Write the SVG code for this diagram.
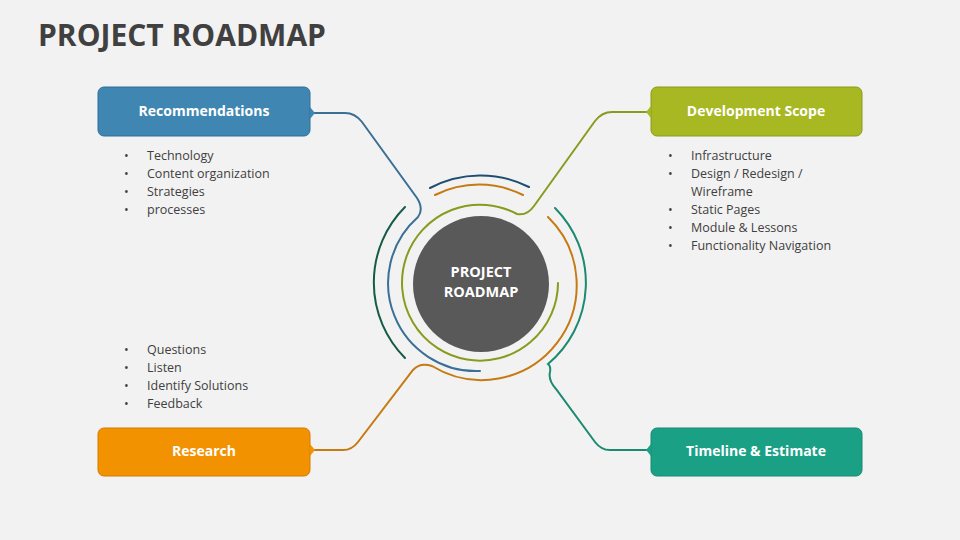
<svg xmlns="http://www.w3.org/2000/svg" width="960" height="540" viewBox="0 0 960 540">
<style>
.t{font-family:"Open Sans","Liberation Sans",sans-serif}
.bx{font-family:"Open Sans","Liberation Sans",sans-serif;font-size:14px;font-weight:bold;fill:#fff;text-anchor:middle}
.li{font-family:"Open Sans","Liberation Sans",sans-serif;font-size:12.5px;fill:#404040}
.c{fill:none;stroke-width:2;stroke-linecap:round}
</style>
<rect width="960" height="540" fill="#f2f2f2"/>
<text class="t" x="38" y="46" font-size="30" font-weight="bold" fill="#404040">PROJECT ROADMAP</text>
<g id="connectors">
<path class="c" stroke="#3a6f96" d="M310,113 H345 Q355,113 362,122 L417,198 Q424,209 418,217 A88 88 0 0 0 480 371"/>
<path class="c" stroke="#8a9a1e" d="M651,112 H612 Q602,112 595,121 L534,206 Q527,216 517,214 A78 78 0 1 0 558 283"/>
<path class="c" stroke="#c67a12" d="M310,450 H343 Q352,450 358,442 L413,370 Q420,362 432,366 A95 95 0 0 0 548 217"/>
<path class="c" stroke="#1a8a70" d="M651,450 H610 Q601,450 595,442 L556,389 Q548,380 550,372 Q551,366 548,364 A106 106 0 0 0 555 208"/>
<path class="c" stroke="#1f4e6e" d="M430,188 A108 108 0 0 1 529 187"/>
<path class="c" stroke="#c67a12" d="M435,195 A98 98 0 0 1 523 195"/>
<path class="c" stroke="#145c45" d="M405,207 A107 107 0 0 0 405 358"/>
</g>
<g id="center">
<circle cx="481" cy="284" r="68" fill="#595959"/>
<text class="t" x="481" y="277" font-size="14.5" font-weight="bold" fill="#fff" text-anchor="middle">PROJECT</text>
<text class="t" x="481" y="297" font-size="14.5" font-weight="bold" fill="#fff" text-anchor="middle">ROADMAP</text>
</g>
<g id="recommendations">
<rect x="98" y="87" width="212" height="49" rx="6" fill="#3f87b2" stroke="#2f6f96"/>
<path d="M310,107 L315,113 L310,119 Z" fill="#3f87b2"/>
<text class="bx" x="204" y="116">Recommendations</text>
<g class="li"><text x="124" y="160">•</text><text x="147" y="160">Technology</text>
<text x="124" y="178">•</text><text x="147" y="178">Content organization</text>
<text x="124" y="196">•</text><text x="147" y="196">Strategies</text>
<text x="124" y="214">•</text><text x="147" y="214">processes</text></g>
</g>
<g id="development">
<rect x="651" y="87" width="211" height="49" rx="6" fill="#a7b823" stroke="#8a9a1e"/>
<path d="M651,106 L646,112 L651,118 Z" fill="#a7b823"/>
<text class="bx" x="756" y="116">Development Scope</text>
<g class="li"><text x="668" y="160">•</text><text x="691" y="160">Infrastructure</text>
<text x="668" y="178">•</text><text x="691" y="178">Design / Redesign /</text>
<text x="691" y="196">Wireframe</text>
<text x="668" y="214">•</text><text x="691" y="214">Static Pages</text>
<text x="668" y="232">•</text><text x="691" y="232">Module &amp; Lessons</text>
<text x="668" y="250">•</text><text x="691" y="250">Functionality Navigation</text></g>
</g>
<g id="research">
<rect x="98" y="428" width="212" height="48" rx="6" fill="#f39200" stroke="#d17d00"/>
<path d="M310,444 L315,450 L310,456 Z" fill="#f39200"/>
<text class="bx" x="204" y="456">Research</text>
<g class="li"><text x="124" y="354">•</text><text x="147" y="354">Questions</text>
<text x="124" y="372">•</text><text x="147" y="372">Listen</text>
<text x="124" y="390">•</text><text x="147" y="390">Identify Solutions</text>
<text x="124" y="408">•</text><text x="147" y="408">Feedback</text></g>
</g>
<g id="timeline">
<rect x="651" y="428" width="211" height="48" rx="6" fill="#1aa085" stroke="#168a72"/>
<path d="M651,444 L646,450 L651,456 Z" fill="#1aa085"/>
<text class="bx" x="756" y="456">Timeline &amp; Estimate</text>
</g>
</svg>
